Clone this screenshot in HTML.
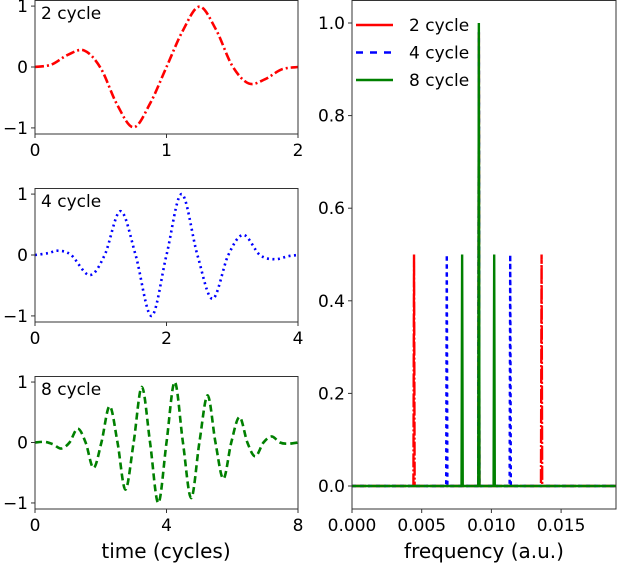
<!DOCTYPE html>
<html><head><meta charset="utf-8"><style>
body{margin:0;background:#fff}
svg{display:block;font-family:"DejaVu Sans","Liberation Sans",sans-serif}
</style></head><body>
<svg id="c" width="617" height="564" viewBox="0 0 617 564"></svg>
<script>
const t2 = [0,0.125,0.25,0.375,0.5,0.625,0.75,0.875,1,1.125,1.25,1.375,1.5,1.625,1.75,1.875,2];
const v2 = [0,0.04,0.2,0.27,-0.02,-0.62,-0.99,-0.6,0,0.6,0.99,0.62,0.02,-0.27,-0.2,-0.04,0];
const t4 = [0,0.2,0.35,0.55,0.83,1.06,1.3,1.53,1.77,2.0,2.23,2.47,2.7,2.94,3.17,3.42,3.65,3.85,4];
const v4 = [0,0.03,0.07,0,-0.33,0,0.72,0,-1,0,1,0,-0.72,0,0.33,0,-0.07,-0.02,0];
const t8 = [0,0.3,0.55,0.8,1.05,1.3,1.54,1.78,2.02,2.27,2.51,2.75,3.0,3.25,3.5,3.75,4.0,4.25,4.5,4.75,5.0,5.25,5.49,5.73,5.97,6.22,6.46,6.7,6.95,7.2,7.45,7.7,8];
const v8 = [0,0.01,-0.03,-0.1,0,0.23,0,-0.42,0,0.6,0,-0.78,0,0.92,0,-1,0,1,0,-0.92,0,0.78,0,-0.6,0,0.42,0,-0.23,0,0.1,0,-0.02,0];
const freqRed = [0.00445,0.0091,0.0136];
const ampRed = [0.5,0.98,0.5];
const freqBlue = [0.0068,0.0091,0.01135];
const ampBlue = [0.5,0.98,0.5];
const freqGreen = [0.0079,0.0091,0.0102];
const ampGreen = [0.5,1.0,0.5];
const yTicksRight = [0,0.2,0.4,0.6,0.8,1.0];
const yTickLabelsRight = ["0.0","0.2","0.4","0.6","0.8","1.0"];
const xTicksRight = [0,0.005,0.01,0.015];
const xTickLabelsRight = ["0.000","0.005","0.010","0.015"];

const NS="http://www.w3.org/2000/svg";
const svg=document.getElementById('c');
function mk(tag,attrs,parent){const e=document.createElementNS(NS,tag);for(const k in attrs)e.setAttribute(k,attrs[k]);(parent||svg).appendChild(e);return e;}
function txt(s,x,y,anchor,size,parent){const e=mk('text',{x:x,y:y,'text-anchor':anchor,'font-size':size,fill:'#000'},parent);e.textContent=s;return e;}
function crPath(pts){let d='M'+pts[0][0].toFixed(2)+','+pts[0][1].toFixed(2);for(let i=0;i<pts.length-1;i++){const p0=pts[i-1]||pts[i],p1=pts[i],p2=pts[i+1],p3=pts[i+2]||p2;const c1=[p1[0]+(p2[0]-p0[0])/6,p1[1]+(p2[1]-p0[1])/6];const c2=[p2[0]-(p3[0]-p1[0])/6,p2[1]-(p3[1]-p1[1])/6];d+=' C'+c1[0].toFixed(2)+','+c1[1].toFixed(2)+' '+c2[0].toFixed(2)+','+c2[1].toFixed(2)+' '+p2[0].toFixed(2)+','+p2[1].toFixed(2);}return d;}

const panels=[
 {ts:t2,vs:v2,tmax:2,top:0,bot:134,label:'2 cycle',color:'red',dash:'9,3,2,3',ticks:[0,1,2],name:'2-cycle'},
 {ts:t4,vs:v4,tmax:4,top:188,bot:322,label:'4 cycle',color:'blue',dash:'2,3.5',ticks:[0,2,4],name:'4-cycle'},
 {ts:t8,vs:v8,tmax:8,top:376,bot:509,label:'8 cycle',color:'green',dash:'7,4',ticks:[0,4,8],name:'8-cycle'}
];
const L=35,R=298;
panels.forEach(p=>{
 const g=mk('g',{});
 
 
 const xs=t=>L+t/p.tmax*(R-L);
 const ys=v=>p.top+(1.1-v)/2.2*(p.bot-p.top);
 const path=mk('path',{d:crPath(p.ts.map((t,i)=>[xs(t),ys(p.vs[i])])),fill:'none',stroke:p.color,'stroke-width':2.6,'stroke-dasharray':p.dash},g);
 
 
 const fr=mk('rect',{x:L,y:p.top+0.5,width:R-L,height:p.bot-p.top-0.5,fill:'none',stroke:'#333','stroke-width':1},g);
 
 
 [-1,0,1].forEach(v=>{mk('line',{x1:L-4,x2:L,y1:ys(v),y2:ys(v),stroke:'#333'},g);
  const t=txt(v<0?'\u22121':String(v),L-7,ys(v)+6,'end',17,g);
  
  });
 p.ticks.forEach(v=>{mk('line',{x1:xs(v),x2:xs(v),y1:p.bot,y2:p.bot+4,stroke:'#333'},g);
  const t=txt(String(v),xs(v),p.bot+22,'middle',17,g);
  
  });
 const lb=txt(p.label,41,p.top+19,'start',17,g);
 
 
});
const xl=txt('time (cycles)',166,558,'middle',20);



// right spectrum
const RL=352,RR=616,RT=0.5,RB=509;
const fx=f=>RL+f*13940;
const fy=a=>486-a*463;
const gr=mk('g',{});


function spec(fr,am,color,dash,name){
 let pts=[[fx(0),fy(0)]];
 fr.forEach((f,i)=>{pts.push([fx(f)-0.6,fy(0)],[fx(f),fy(am[i])],[fx(f)+0.6,fy(0)]);});
 pts.push([RR,fy(0)]);
 const e=mk('polyline',{points:pts.map(p=>p[0].toFixed(2)+','+p[1].toFixed(2)).join(' '),fill:'none',stroke:color,'stroke-width':2.4,'stroke-dasharray':dash},gr);
 
 
}
spec(freqRed,ampRed,'red','14,2,2,2','spectrum-2-cycle');
spec(freqBlue,ampBlue,'blue','4,4','spectrum-4-cycle');
spec(freqGreen,ampGreen,'green','none','spectrum-8-cycle');
const rf=mk('rect',{x:RL,y:RT,width:RR-RL,height:RB-RT,fill:'none',stroke:'#333','stroke-width':1},gr);


yTicksRight.forEach((v,i)=>{mk('line',{x1:RL-4,x2:RL,y1:fy(v),y2:fy(v),stroke:'#333'},gr);
 const t=txt(yTickLabelsRight[i],RL-7,fy(v)+6,'end',17,gr);
 
 });
xTicksRight.forEach((v,i)=>{mk('line',{x1:fx(v),x2:fx(v),y1:RB,y2:RB+4,stroke:'#333'},gr);
 const t=txt(xTickLabelsRight[i],fx(v),RB+22,'middle',17,gr);
 
 });
const fl=txt('frequency (a.u.)',484,558,'middle',20);


// legend
const leg=[['2 cycle','red','none'],['4 cycle','blue','7,7'],['8 cycle','green','none']];
leg.forEach((l,i)=>{
 const y=25+i*27.5;
 const g=mk('g',{},gr);
 
 
 mk('line',{x1:356,x2:393,y1:y,y2:y,stroke:l[1],'stroke-width':2.6,'stroke-dasharray':l[2]},g);
 txt(l[0],409,y+6,'start',17,g);
});
</script>
</body></html>
